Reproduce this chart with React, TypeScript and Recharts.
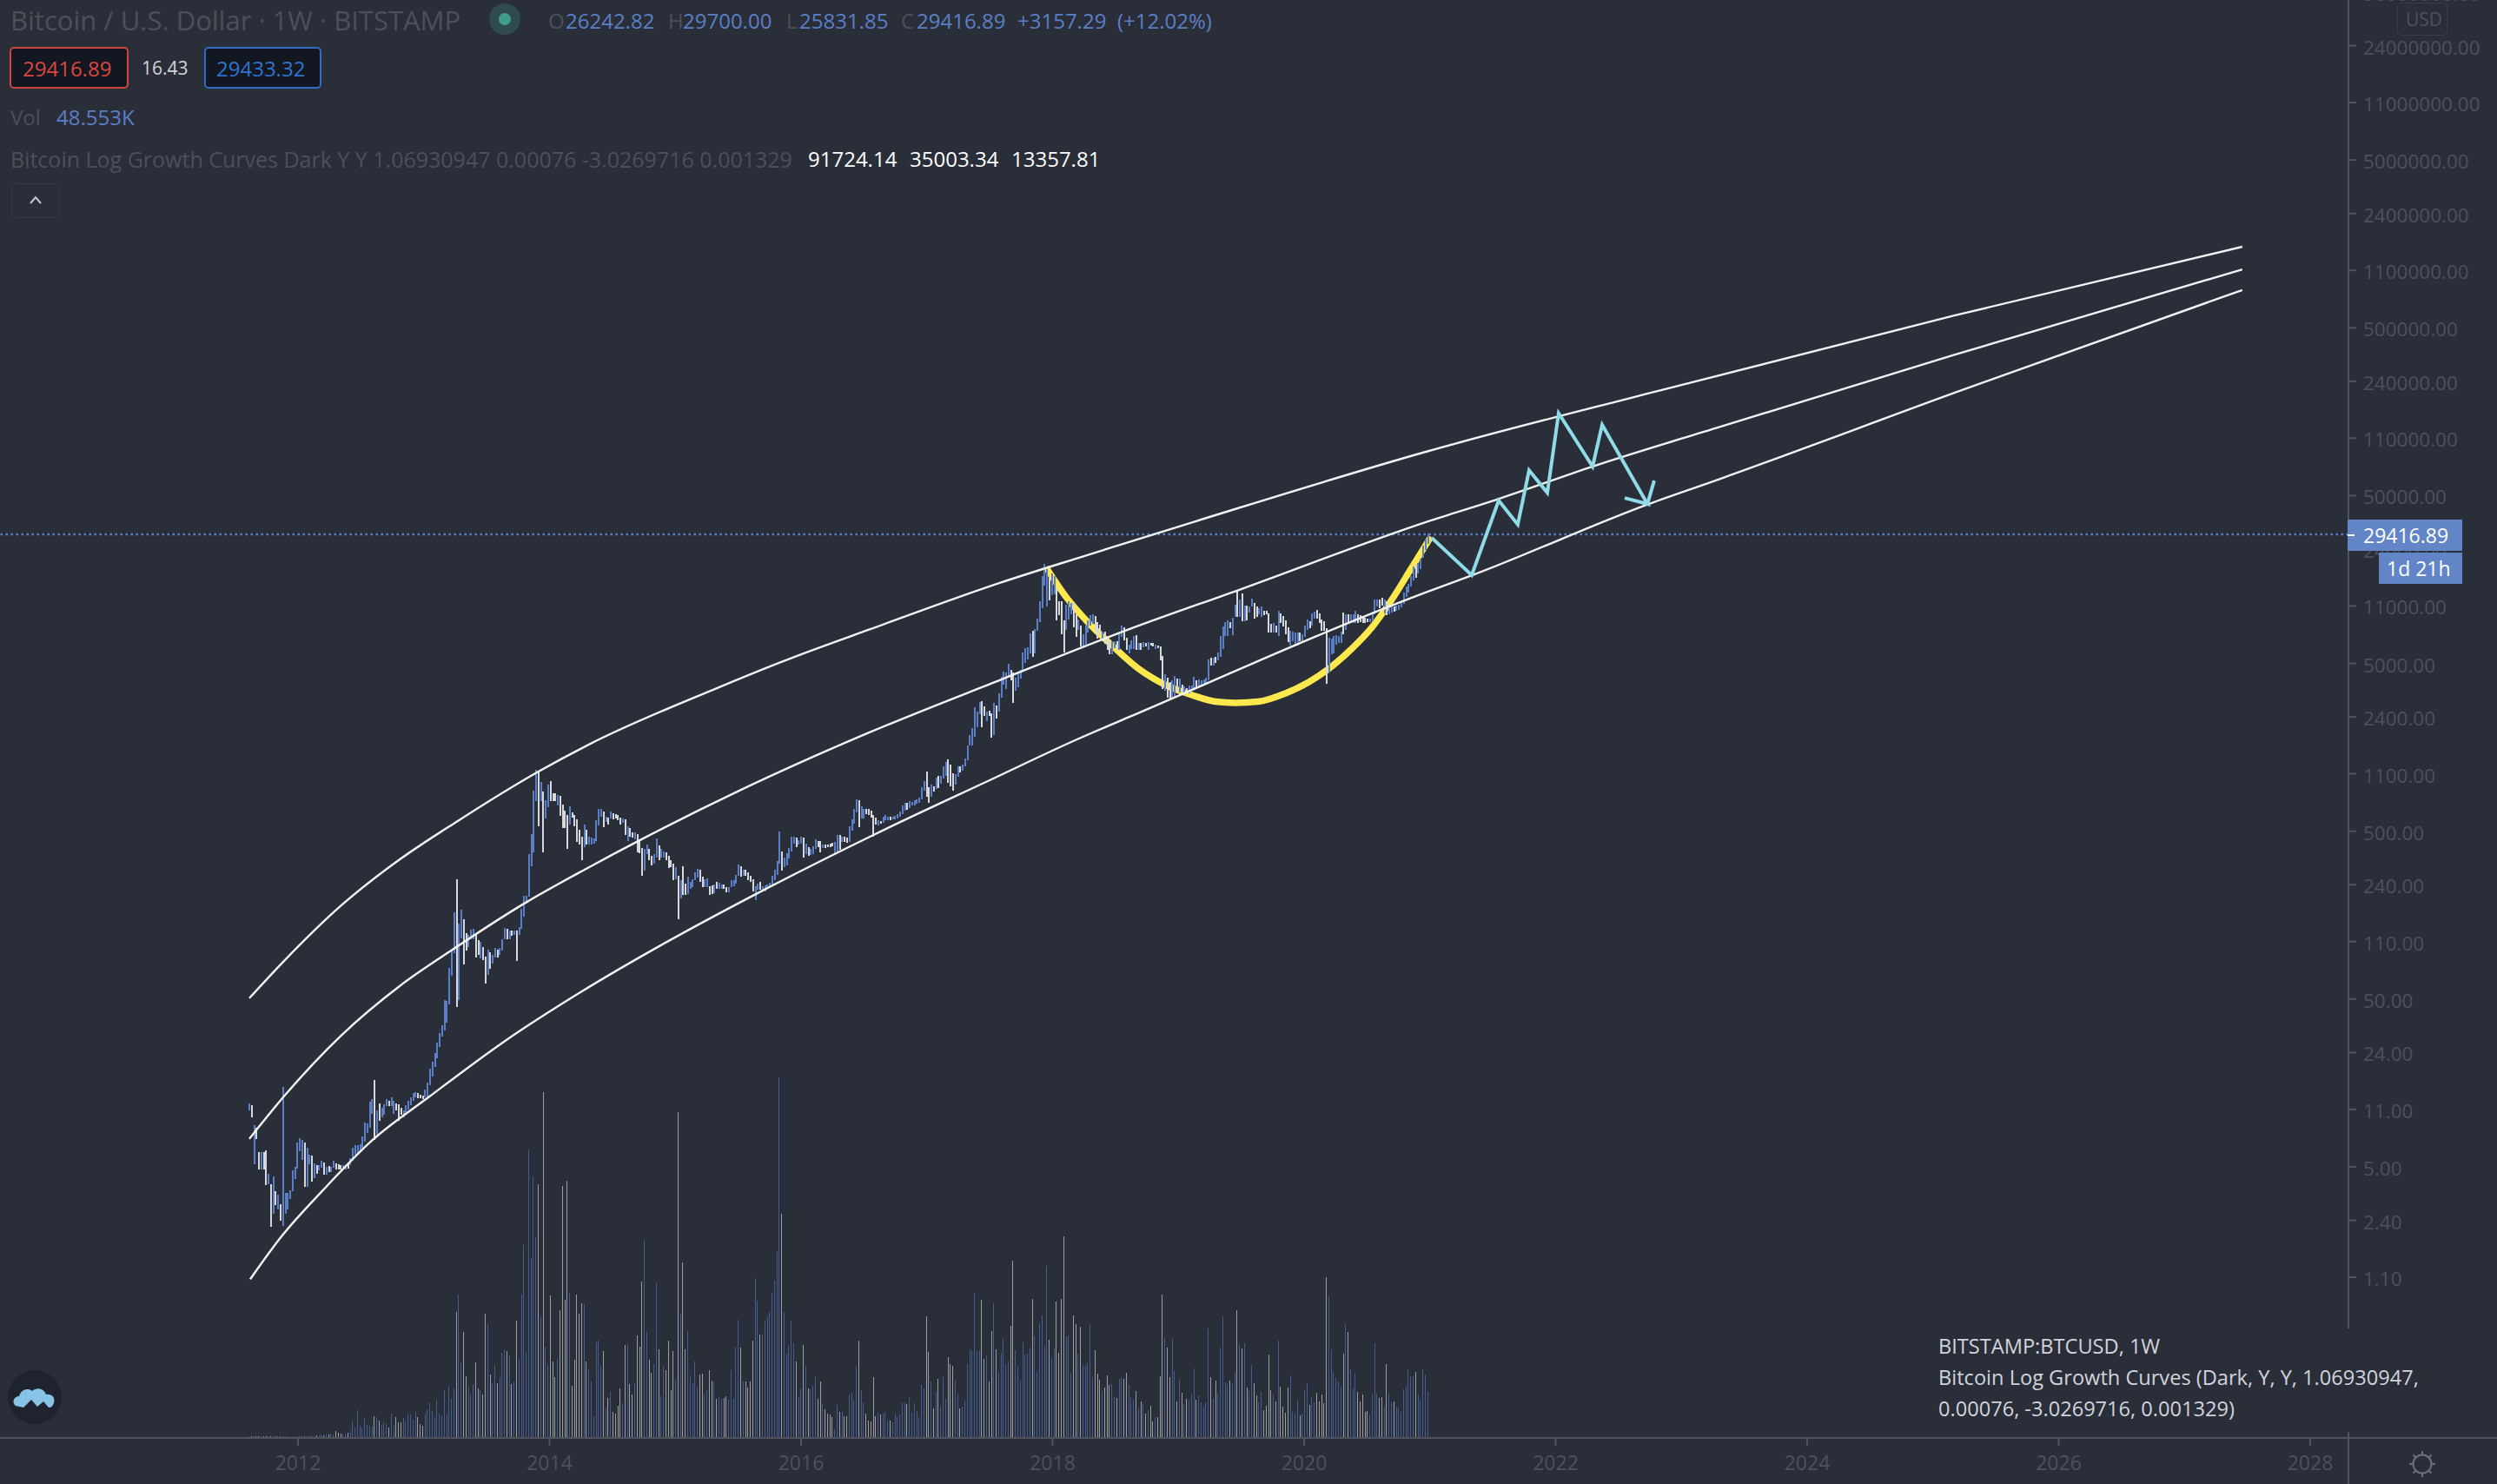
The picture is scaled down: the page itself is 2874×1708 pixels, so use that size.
import React from 'react';
import { Bar, ComposedChart, Line, ReferenceLine, XAxis, YAxis } from 'recharts';

const BG = '#2a2e39';
const AXIS = '#50535e';
const AXIS_TEXT = '#4d515c';
const BLUE = '#5b7fc6';
const WHITE = '#d6d8dd';
const FONT = '"Open Sans", sans-serif';

const firstWeek = 2011.613;
const weekStep = 7 / 365.25;

const yearTicks = [2012, 2014, 2016, 2018, 2020, 2022, 2024, 2026, 2028];
const priceTicks = [
    50000000, 24000000, 11000000, 5000000, 2400000, 1100000, 500000, 240000, 110000, 50000, 24000, 11000, 5000, 2400,
    1100, 500, 240, 110, 50, 24, 11, 5, 2.4, 1.1,
];

const candleHigh = [
    12, 11.6, 8.9, 8.5, 6.1, 6.1, 6.1, 6.3, 4.55, 3.95,
    4.4, 3.6, 3.4, 3, 15, 3.5, 3.5, 3.64, 4.75, 5,
    7, 7.44, 7.2, 6.95, 6.5, 5.9, 5.86, 5.25, 5.15, 5.15,
    5.45, 5.33, 5, 5.08, 5, 5.45, 5.25, 5.2, 5.15, 5.15,
    5.15, 5.25, 5.65, 6.5, 6.75, 6.7, 6.85, 7.6, 9.2, 9.05,
    12.2, 12.7, 16.5, 10.8, 12, 11.2, 11.8, 12.7, 12.4, 13,
    12.3, 12, 11.8, 11.2, 10.9, 11.6, 12.4, 12.9, 13.7, 14,
    13.7, 13.4, 13.3, 14.4, 15.8, 19.3, 21.1, 23.9, 27.6, 31.5,
    35, 49.5, 48.5, 77, 97, 165, 258, 140, 170, 150,
    124, 120, 130, 131, 124, 112, 109, 102, 90, 99,
    95, 92, 101, 98.5, 101, 114, 133, 131, 128, 128,
    128, 128, 135, 173, 207, 207, 365, 481, 873, 1165,
    1135, 983, 860, 765, 945, 995, 840, 840, 820, 815,
    720, 660, 625, 705, 650, 628, 590, 510, 465, 548,
    510, 465, 460, 455, 582, 680, 680, 655, 610, 603,
    655, 640, 632, 625, 603, 597, 590, 535, 522, 493,
    493, 481, 450, 398, 393, 418, 393, 357, 365, 455,
    410, 393, 380, 376, 355, 336, 320, 305, 270, 257,
    310, 245, 268, 250, 260, 286, 299, 295, 268, 260,
    262, 235, 238, 241, 249, 246, 240, 240, 231, 233,
    256, 255, 273, 318, 310, 295, 295, 285, 271, 260,
    235, 245, 250, 235, 238, 241, 246, 271, 295, 333,
    497, 380, 347, 369, 398, 465, 465, 460, 440, 465,
    460, 422, 403, 393, 409, 450, 438, 438, 418, 415,
    415, 422, 425, 433, 473, 473, 465, 465, 460, 535,
    590, 680, 775, 765, 705, 680, 680, 680, 665, 625,
    603, 582, 577, 610, 625, 610, 610, 610, 617, 635,
    655, 715, 740, 740, 755, 750, 765, 775, 790, 910,
    995, 1135, 910, 945, 930, 1045, 1070, 1070, 1220, 1300,
    1340, 1248, 1108, 1095, 1220, 1220, 1248, 1355, 1620, 1870,
    2060, 2750, 2580, 2945, 2975, 2780, 2580, 2610, 2520, 2910,
    2810, 3320, 4150, 4470, 4400, 4950, 4580, 4400, 4110, 4360,
    4580, 5810, 6130, 6210, 7550, 7860, 8000, 9240, 11700, 16600,
    19600, 18600, 16600, 17200, 16600, 14000, 11700, 11700, 9050, 11200,
    11700, 11450, 11600, 9800, 9140, 8400, 7459, 8400, 9050, 9700,
    9860, 9580, 8850, 8500, 7750, 7750, 7200, 6860, 6780, 6780,
    6780, 7640, 8400, 8200, 7100, 6470,
    6860, 7300, 7370, 6620, 6620, 6700, 6620, 6700, 6620, 6620,
    6470, 6390, 6300, 5540, 4290, 4110, 3870, 3960, 4210, 4060,
    4060, 3730, 3650, 3560, 3690, 3690, 4160, 3960, 4010, 3960,
    4010, 4110, 5280, 5430, 5430, 5500, 5810, 7280, 8300, 8850,
    9050, 8850, 9350, 11200, 13700, 12000, 13000, 11050, 11050, 10900,
    12150, 11450, 10900, 10665, 10900, 10300, 10300, 9900, 8600, 8700,
    8400, 10300, 9900, 9580, 9050, 8200, 7800, 7750, 7600, 7600,
    7600, 7460, 8400, 9140, 8900, 9900, 10150, 10400, 9900, 9140,
    8900, 8100, 7100, 7030, 7280, 7370, 7280, 7750, 10050, 9800,
    9800, 9800, 9800, 10300, 9800, 9700, 9580, 9350, 9250, 9250,
    10150, 12000, 12000, 12000, 12300, 12000, 11700, 11050, 10900, 10900,
    11050, 11200, 11450, 13200, 14400, 14900, 16600, 18900, 19400, 19800,
    21000, 25200, 27800, 29700,
];

const candleLow = [
    10.9, 9.9, 5.2, 7.35, 4.85, 4.85, 4.85, 3.87, 3.93, 2.2,
    2.63, 2.95, 2.8, 2.38, 2.23, 2.63, 2.8, 3.23, 3.6, 4.25,
    4.9, 6.2, 5.5, 3.8, 3.8, 5.2, 4.1, 4.3, 4.55, 4.75,
    4.95, 4.5, 4.5, 4.68, 4.68, 4.95, 4.85, 4.85, 4.85, 4.85,
    4.85, 4.9, 5.15, 5.45, 5.9, 5.9, 6.3, 6.5, 7.1, 8,
    8.5, 10.3, 7.2, 7.8, 9.44, 9.9, 10.2, 11.5, 11.5, 11.5,
    10.4, 10.9, 9.4, 10.2, 9.9, 10.6, 11, 11.7, 12.3, 12.9,
    12.8, 12.8, 12.7, 13, 13.2, 15.4, 17.3, 19.7, 22.2, 26,
    30, 32.5, 36, 46.5, 68.5, 94, 45, 49.5, 115, 80.6,
    97, 102, 114, 114, 88.7, 92, 87, 85.5, 62, 69.5,
    76, 81.6, 88.7, 88.7, 92, 97, 114, 114, 114, 119,
    121, 84.5, 120, 131, 155, 185, 204, 308, 376, 760,
    536, 760, 376, 597, 695, 760, 760, 760, 715, 617,
    522, 522, 394, 550, 603, 535, 432, 415, 336, 403,
    415, 415, 415, 422, 438, 542, 610, 530, 567, 548,
    597, 592, 597, 582, 548, 560, 475, 438, 465, 460,
    450, 376, 368, 272, 290, 365, 336, 314, 322, 350,
    336, 350, 350, 336, 303, 305, 255, 260, 150, 200,
    208, 208, 211, 228, 231, 255, 265, 250, 233, 231,
    231, 208, 211, 213, 226, 228, 228, 226, 216, 216,
    231, 235, 245, 270, 268, 271, 271, 257, 250, 219,
    195, 223, 223, 219, 219, 231, 233, 238, 257, 273,
    320, 290, 305, 313, 343, 379, 422, 403, 415, 422,
    347, 365, 355, 360, 365, 393, 403, 376, 398, 398,
    403, 403, 408, 370, 376, 386, 433, 433, 427, 433,
    505, 557, 648, 530, 597, 597, 635, 625, 603, 465,
    548, 542, 557, 562, 582, 582, 582, 590, 590, 597,
    610, 635, 665, 672, 688, 715, 715, 730, 740, 775,
    873, 800, 740, 800, 865, 890, 900, 960, 1030, 1070,
    970, 930, 873, 945, 1060, 1120, 1150, 1220, 1330, 1620,
    1620, 1830, 2090, 2490, 2090, 2430, 2265, 2430, 1800, 1870,
    2350, 2580, 3120, 3730, 3510, 4150, 3960, 2910, 3420, 3600,
    4060, 4520, 5030, 5280, 5740, 5450, 5740, 7860, 8850, 10665,
    14500, 10900, 11900, 12700, 12900, 9050, 9700, 7459, 5810, 7930,
    9140, 9860, 8200, 7200, 7930, 6300, 6300, 6470, 7640, 8400,
    8600, 7750, 7020, 7370, 6860, 6550, 6020, 5670, 5670, 6130,
    5950, 6020, 7200, 6860, 6020, 5740,
    6060, 6060, 6020, 6020, 6020, 6230, 6300, 6020, 6400, 6300,
    6060, 6130, 5220, 3510, 3420, 3120, 3090, 3120, 3160, 3340,
    3350, 3350, 3350, 3310, 3310, 3510, 3560, 3600, 3650, 3730,
    3730, 3780, 3960, 4830, 4880, 5030, 5220, 5500, 6100, 7280,
    7280, 8100, 7370, 9470, 9470, 9470, 8900, 8900, 9050, 10000,
    10900, 9250, 9470, 9800, 9470, 9700, 9800, 7600, 7600, 7600,
    7600, 7280, 8700, 8300, 7460, 6700, 6390, 6780, 6300, 6390,
    6780, 6620, 7200, 7930, 8100, 8400, 9250, 9250, 8700, 7800,
    7800, 3780, 4400, 5670, 5740, 6470, 6620, 6620, 7460, 7930,
    8600, 8700, 8700, 8700, 8700, 8850, 8700, 8700, 8850, 8850,
    8900, 9800, 10900, 10665, 11050, 9900, 9700, 9800, 10050, 10150,
    10300, 10400, 10800, 11350, 12450, 13200, 14400, 15600, 16200, 17200,
    18200, 21300, 23600, 25800,
];

// b = week closed up, w = week closed down
const candleSide = (
    'b w b w w b w w b w b w b w b b b b b b ' +
    'b b b w b b w b w b b w b w b b w w w b ' +
    'b w b b b b b b b b b b w b w b b b w b ' +
    'b w w w b b b b b b w w w b b b b b b b ' +
    'b b b b b b w b b w w b b b w w b w w b ' +
    'w b b w b b b w b w b w b b b b b b b b ' +
    'w b w b b w w w b w w w w b w w w w w b ' +
    'w b b b b b b w b w b w w w w b w b w w ' +
    'b w w w b b w w b b w b b w w w w b w b ' +
    'w w b b b b b w w b b w w b w b b w w b ' +
    'b b b b w b w w w w b b w b b b b b b b ' +
    'b w b b b b b w b b w b w b b b w w b w ' +
    'w w w b b w b w w b b b b w b b w w w w ' +
    'w b w b b b w b b b b b b w b b b b b b ' +
    'b w w b w b w b b b w w w b b w b b b b ' +
    'b b b b w w b w w b w b b b b b w w b b ' +
    'b b b b b w b b b b b b w b b w w w w b ' +
    'b b w w b w b b b b b w w w b w w w b b ' +
    'w b b w w b ' +
    'b b w b w b w b w w b w w w b w w b b w ' +
    'b w b w b b b w b b b b b w b w b b b b ' +
    'b w b b w b w b w b b w w b b w w w w b ' +
    'w b w w w w b b b b w b b b w b b w w w ' +
    'w w b b b b b b w b w b b b w w w w w b ' +
    'b b b w w b w b b w b b b b b b b b w b ' +
    'b b b b'
).split(' ');

// weekly volume, thousands of BTC
const weeklyVolume = [
    2, 2, 2, 2, 2, 2, 2, 2, 2, 2,
    2, 2, 2, 2, 2, 2, 2, 2, 2, 2,
    2, 2, 2, 2, 2, 2, 2, 2, 3, 3,
    4, 3, 4, 4, 5, 4, 8, 6, 5, 4,
    5, 6, 8, 20, 12, 32, 14, 11, 23, 15,
    14, 13, 25, 24, 20, 15, 18, 16, 12, 28,
    14, 24, 18, 18, 23, 19, 28, 27, 21, 30,
    24, 16, 14, 28, 33, 41, 31, 24, 44, 28,
    26, 55, 28, 60, 45, 57, 145, 165, 86, 122,
    71, 60, 50, 62, 87, 57, 55, 50, 143, 131,
    73, 63, 84, 63, 70, 98, 102, 100, 95, 62,
    65, 135, 91, 165, 222, 98, 332, 207, 301, 231,
    292, 139, 398, 105, 84, 164, 88, 70, 92, 147,
    290, 159, 296, 167, 60, 90, 165, 143, 155, 154,
    88, 79, 65, 25, 110, 112, 83, 100, 35, 46,
    53, 30, 28, 37, 57, 40, 107, 108, 62, 50,
    63, 118, 105, 180, 228, 122, 90, 75, 85, 178,
    102, 48, 82, 78, 112, 55, 100, 67, 375, 143,
    202, 102, 123, 72, 63, 88, 58, 73, 74, 50,
    55, 78, 66, 64, 45, 47, 45, 46, 48, 44,
    78, 45, 105, 136, 104, 65, 65, 58, 65, 112,
    184, 158, 119, 120, 135, 140, 145, 167, 181, 215,
    415, 258, 145, 97, 107, 135, 109, 88, 47, 57,
    107, 83, 57, 56, 60, 70, 45, 65, 39, 33,
    28, 27, 24, 10, 38, 30, 30, 25, 25, 50,
    52, 43, 82, 112, 55, 41, 28, 20, 19, 70,
    25, 29, 27, 28, 30, 20, 20, 18, 28, 24,
    27, 41,
    41, 39, 47, 29, 40, 31, 24, 61, 57, 140,
    99, 65, 34, 53, 68, 36, 70, 45, 93, 85,
    83, 66, 50, 34, 36, 43, 85, 102, 100, 167,
    100, 101, 159, 91, 95, 65, 123, 155, 102, 76,
    98, 114, 85, 88, 129, 204, 101, 82, 66, 110,
    96, 97, 104, 160, 117, 76, 132, 141, 106, 198,
    113, 92, 104, 157, 98, 160, 232, 117, 117, 75,
    141, 131, 97, 128, 84, 83, 86, 130, 70, 101,
    74, 67, 54, 58, 72, 61, 62, 48, 46, 68,
    70, 68, 75, 61, 46, 44, 54, 34, 42, 39,
    28, 32, 37, 19, 24, 24, 71, 165, 116, 104,
    70, 114, 77, 42, 67, 52, 38, 45, 44, 51,
    80, 44, 49, 41, 36, 41, 126, 70, 45, 66,
    51, 104, 140, 64, 62, 66, 62, 76, 147, 108,
    103, 109, 58, 54, 84, 63, 49, 41, 53, 32,
    37, 96, 55, 50, 42, 112, 59, 36, 29, 58,
    72, 30, 28, 44, 26, 28, 56, 63, 38, 47,
    41, 52, 42, 50, 40, 185, 163, 102, 76, 69,
    65, 59, 97, 131, 122, 79, 57, 74, 53, 42,
    50, 30, 31, 27, 51, 109, 51, 46, 47, 36,
    85, 51, 41, 42, 36, 35, 30, 56, 59, 79,
    71, 71, 76, 50, 44, 79, 73, 53,
];

const upperCurve = [
    { year: 2011.613, price: 50.6 }, { year: 2011.89, price: 84.5 }, { year: 2012.345, price: 181 },
    { year: 2012.81, price: 340 }, { year: 2013.27, price: 575 }, { year: 2013.9, price: 1120 },
    { year: 2014.31, price: 1640 }, { year: 2015.33, price: 3560 }, { year: 2015.965, price: 5537 },
    { year: 2016.54, price: 7950 }, { year: 2017.575, price: 15050 }, { year: 2018.25, price: 21806 },
    { year: 2019.136, price: 35130 }, { year: 2020.98, price: 91724.14 }, { year: 2022.81, price: 210000 },
    { year: 2025.17, price: 592000 }, { year: 2027.46, price: 1520000 },
];
const middleCurve = [
    { year: 2011.613, price: 7.35 }, { year: 2011.89, price: 13.2 }, { year: 2012.345, price: 30.4 },
    { year: 2012.81, price: 59.9 }, { year: 2013.22, price: 97.5 }, { year: 2013.796, price: 185 },
    { year: 2014.31, price: 304 }, { year: 2014.72, price: 443 }, { year: 2015.5, price: 866 },
    { year: 2016.54, price: 1935 }, { year: 2017.596, price: 4020 }, { year: 2018.61, price: 8000 },
    { year: 2019.48, price: 13700 }, { year: 2020.98, price: 35003.34 }, { year: 2021.55, price: 47900 },
    { year: 2022.29, price: 74400 }, { year: 2023.31, price: 128700 }, { year: 2025.17, price: 345000 },
    { year: 2027.46, price: 1114000 },
];
const lowerCurve = [
    { year: 2011.62, price: 1.07 }, { year: 2011.87, price: 1.93 }, { year: 2012.2, price: 3.64 },
    { year: 2012.59, price: 7.2 }, { year: 2013.05, price: 13.2 }, { year: 2013.63, price: 27.6 },
    { year: 2014.26, price: 55.7 }, { year: 2014.88, price: 104 }, { year: 2015.63, price: 209 },
    { year: 2016.59, price: 481 }, { year: 2017.47, price: 983 }, { year: 2018.21, price: 1784 },
    { year: 2018.61, price: 2400 }, { year: 2020.98, price: 13357.81 }, { year: 2021.34, price: 16800 },
    { year: 2022.74, price: 44580 }, { year: 2023.31, price: 63000 }, { year: 2025.17, price: 205000 },
    { year: 2027.46, price: 840000 },
];

const cupCurve = [
    { year: 2017.948, price: 18680 }, { year: 2018.107, price: 12450 }, { year: 2018.287, price: 8700 },
    { year: 2018.473, price: 6400 }, { year: 2018.687, price: 4630 }, { year: 2018.895, price: 3730 },
    { year: 2019.109, price: 3238 }, { year: 2019.295, price: 2960 }, { year: 2019.454, price: 2910 },
    { year: 2019.634, price: 2960 }, { year: 2019.848, price: 3310 }, { year: 2020.035, price: 3860 },
    { year: 2020.193, price: 4630 }, { year: 2020.38, price: 6130 }, { year: 2020.539, price: 8200 },
    { year: 2020.698, price: 12015 }, { year: 2020.857, price: 18680 }, { year: 2021.008, price: 28400 },
];
const forecastPath = [
    { year: 2021.015, price: 28000 }, { year: 2021.333, price: 16800 }, { year: 2021.547, price: 46800 },
    { year: 2021.699, price: 33600 }, { year: 2021.789, price: 70800 }, { year: 2021.934, price: 52000 },
    { year: 2022.024, price: 155000 }, { year: 2022.294, price: 74500 }, { year: 2022.37, price: 132000 },
    { year: 2022.73, price: 44580 }, { year: 2022.549, price: 48440 }, { year: 2022.73, price: 44580 },
    { year: 2022.784, price: 61480 },
];

const lastClose = 29416.89;

const weeks = candleHigh.map((high, i) => ({
    year: firstWeek + i * weekStep,
    range: [candleLow[i], high],
    side: candleSide[i],
    volume: weeklyVolume[i],
}));

const CandleShape = (props: any) => (
    <rect
        x={Math.round(props.x + props.width / 2 - 1)}
        y={props.y}
        width={2}
        height={Math.max(props.height, 1)}
        fill={props.payload.side === 'b' ? BLUE : WHITE}
        shapeRendering="crispEdges"
    />
);

const VolumeShape = (props: any) => (
    <rect
        x={Math.round(props.x + props.width / 2 - 0.5)}
        y={props.y}
        width={1}
        height={props.height}
        fill={props.payload.side === 'b' ? '#445c8f' : '#9b9da3'}
        shapeRendering="crispEdges"
    />
);

const Label = ({ x, y, color, size = 24, children }: any) => (
    <span
        style={{
            position: 'absolute',
            left: x,
            top: y,
            transform: 'translateY(-50%)',
            color,
            fontSize: size,
            fontFamily: FONT,
            whiteSpace: 'nowrap',
            lineHeight: 1,
        }}
    >
        {children}
    </span>
);

const Box = ({ x, y, w, h, style }: any) => (
    <div style={{ position: 'absolute', left: x, top: y, width: w, height: h, boxSizing: 'border-box', ...style }} />
);

const ChartHeader = () => (
    <>
        <Label x={12} y={23} color="#4c505b" size={31}>Bitcoin / U.S. Dollar · 1W · BITSTAMP</Label>
        <Box x={563} y={4} w={36} h={36} style={{ borderRadius: 18, background: '#2f4a50' }} />
        <Box x={574} y={15} w={14} h={14} style={{ borderRadius: 7, background: '#419c8b' }} />
        <Label x={631} y={24} color="#4c505b">O</Label>
        <Label x={651} y={24} color={BLUE}>26242.82</Label>
        <Label x={769} y={24} color="#4c505b">H</Label>
        <Label x={786} y={24} color={BLUE}>29700.00</Label>
        <Label x={905} y={24} color="#4c505b">L</Label>
        <Label x={920} y={24} color={BLUE}>25831.85</Label>
        <Label x={1037} y={24} color="#4c505b">C</Label>
        <Label x={1055} y={24} color={BLUE}>29416.89</Label>
        <Label x={1171} y={24} color={BLUE}>+3157.29</Label>
        <Label x={1286} y={24} color={BLUE}>(+12.02%)</Label>

        <Box x={11} y={54} w={137} h={48} style={{ border: '2px solid #c9473f', borderRadius: 5, background: '#131722' }} />
        <Label x={26} y={79} color="#d9463d" size={24}>29416.89</Label>
        <Label x={163} y={78} color="#d1d4dc" size={21}>16.43</Label>
        <Box x={235} y={54} w={135} h={48} style={{ border: '2px solid #2f6dc0', borderRadius: 5, background: '#131722' }} />
        <Label x={249} y={79} color="#2f73d0" size={24}>29433.32</Label>

        <Label x={12} y={135} color="#4c505b">Vol</Label>
        <Label x={65} y={135} color={BLUE}>48.553K</Label>

        <Label x={12} y={183} color="#4c505b" size={25}>Bitcoin Log Growth Curves Dark Y Y 1.06930947 0.00076 -3.0269716 0.001329</Label>
        <Label x={930} y={183} color="#ffffff">91724.14</Label>
        <Label x={1047} y={183} color="#ffffff">35003.34</Label>
        <Label x={1164} y={183} color="#ffffff">13357.81</Label>

        <Box x={13} y={211} w={56} h={40} style={{ border: '1px solid #363a45', borderRadius: 4 }} />
        <svg style={{ position: 'absolute', left: 33, top: 223 }} width={16} height={14}>
            <path d="M2 11 L8 4 L14 11" fill="none" stroke="#c5c8d0" strokeWidth={2} />
        </svg>
    </>
);

const RightScaleOverlay = () => (
    <>
        <Box x={2759} y={3} w={58} h={38} style={{ border: '1px solid #383c47', borderRadius: 5, background: BG }} />
        <Label x={2769} y={22} color={AXIS_TEXT} size={21}>USD</Label>

        <Box x={2702} y={598} w={132} h={36} style={{ background: '#6285c7' }} />
        <Box x={2702} y={615} w={8} h={2} style={{ background: '#ffffff' }} />
        <Label x={2720} y={616} color="#ffffff" size={23}>29416.89</Label>
        <Box x={2738} y={636} w={96} h={36} style={{ background: '#6285c7' }} />
        <Label x={2747} y={654} color="#ffffff" size={23}>1d 21h</Label>

        <Box x={2225} y={1529} w={570} h={119} style={{ background: BG }} />
        <Label x={2231} y={1550} color="#d1d4dc" size={23.6}>BITSTAMP:BTCUSD, 1W</Label>
        <Label x={2231} y={1586} color="#d1d4dc" size={23.6}>Bitcoin Log Growth Curves (Dark, Y, Y, 1.06930947,</Label>
        <Label x={2231} y={1622} color="#d1d4dc" size={23.6}>0.00076, -3.0269716, 0.001329)</Label>

        <Box x={2703} y={1654} w={171} h={2} style={{ background: AXIS }} />
        <Box x={2702} y={1648} w={2} h={60} style={{ background: AXIS }} />
        <svg style={{ position: 'absolute', left: 2770, top: 1667 }} width={36} height={36} viewBox="0 0 36 36">
            <circle cx={18} cy={18} r={10.5} fill="none" stroke="#6c707b" strokeWidth={2} />
            <path
                d="M18 3v5 M18 28v5 M3 18h5 M28 18h5 M7.5 7.5l3.5 3.5 M25 25l3.5 3.5 M7.5 28.5l3.5-3.5 M25 11l3.5-3.5"
                stroke="#6c707b"
                strokeWidth={2}
            />
        </svg>
    </>
);

const Logo = () => (
    <svg style={{ position: 'absolute', left: 8, top: 1576 }} width={64} height={64} viewBox="0 0 64 64">
        <circle cx={32} cy={32} r={31} fill="#1f2330" />
        <path
            d="M10 42c-5-4-2-11 4-11 2-8 11-10 15-6 5-5 14-3 16 4 6-1 11 3 9 10-1 3-3 5-6 5l-6-7-7 6-7-8-9 9z"
            fill="#86c3e6"
        />
    </svg>
);

const App = () => (
    <div style={{ position: 'absolute', left: 0, top: 0, width: 2874, height: 1708, overflow: 'hidden', background: BG }}>
        <div style={{ position: 'absolute', left: 0, top: -40 }}>
            <ComposedChart width={2874} height={1748} data={weeks} margin={{ top: 0, right: 0, bottom: 0, left: 0 }}>
                <XAxis
                    xAxisId="time"
                    dataKey="year"
                    type="number"
                    domain={[2009.6304, 2028.304]}
                    ticks={yearTicks}
                    interval={0}
                    allowDataOverflow
                    height={53}
                    tickSize={9}
                    tickMargin={12}
                    stroke={AXIS}
                    strokeWidth={2}
                    tick={{ fill: AXIS_TEXT, fontSize: 23, fontFamily: FONT }}
                />
                <XAxis xAxisId="vol" dataKey="year" type="number" domain={[2009.6304, 2028.304]} allowDataOverflow hide />
                <YAxis
                    yAxisId="price"
                    orientation="right"
                    scale="log"
                    domain={[0.12121, 72353000]}
                    ticks={priceTicks}
                    interval={0}
                    allowDataOverflow
                    width={171}
                    tickSize={9}
                    tickMargin={8}
                    stroke={AXIS}
                    strokeWidth={2}
                    tickFormatter={(v: number) => v.toFixed(2)}
                    tick={{ fill: AXIS_TEXT, fontSize: 22.5, fontFamily: FONT, dy: 2 }}
                />
                <YAxis yAxisId="volume" domain={[0, 1695]} allowDataOverflow hide />

                <ReferenceLine xAxisId="time" yAxisId="price" y={lastClose} stroke={BLUE} strokeWidth={2.5} strokeDasharray="2.5 3.5" />

                <Bar xAxisId="vol" yAxisId="volume" dataKey="volume" barSize={2} shape={VolumeShape} isAnimationActive={false} />

                <Line
                    xAxisId="time"
                    yAxisId="price"
                    data={cupCurve}
                    dataKey="price"
                    type="monotone"
                    stroke="#fde84e"
                    strokeWidth={7.5}
                    dot={false}
                    activeDot={false}
                    zIndex={250}
                    isAnimationActive={false}
                />
                <Bar xAxisId="time" yAxisId="price" dataKey="range" barSize={3} shape={CandleShape} isAnimationActive={false} />
                {[upperCurve, middleCurve, lowerCurve].map((curve, i) => (
                    <Line
                        key={i}
                        xAxisId="time"
                        yAxisId="price"
                        data={curve}
                        dataKey="price"
                        type="monotone"
                        stroke="#f4f4f4"
                        strokeWidth={2.4}
                        dot={false}
                        activeDot={false}
                        isAnimationActive={false}
                    />
                ))}
                <Line
                    xAxisId="time"
                    yAxisId="price"
                    data={forecastPath}
                    dataKey="price"
                    type="linear"
                    stroke="#8fdbe8"
                    strokeWidth={4}
                    strokeLinejoin="miter"
                    dot={false}
                    activeDot={false}
                    isAnimationActive={false}
                />
            </ComposedChart>
        </div>
        <ChartHeader />
        <RightScaleOverlay />
        <Logo />
    </div>
);

export default App;
